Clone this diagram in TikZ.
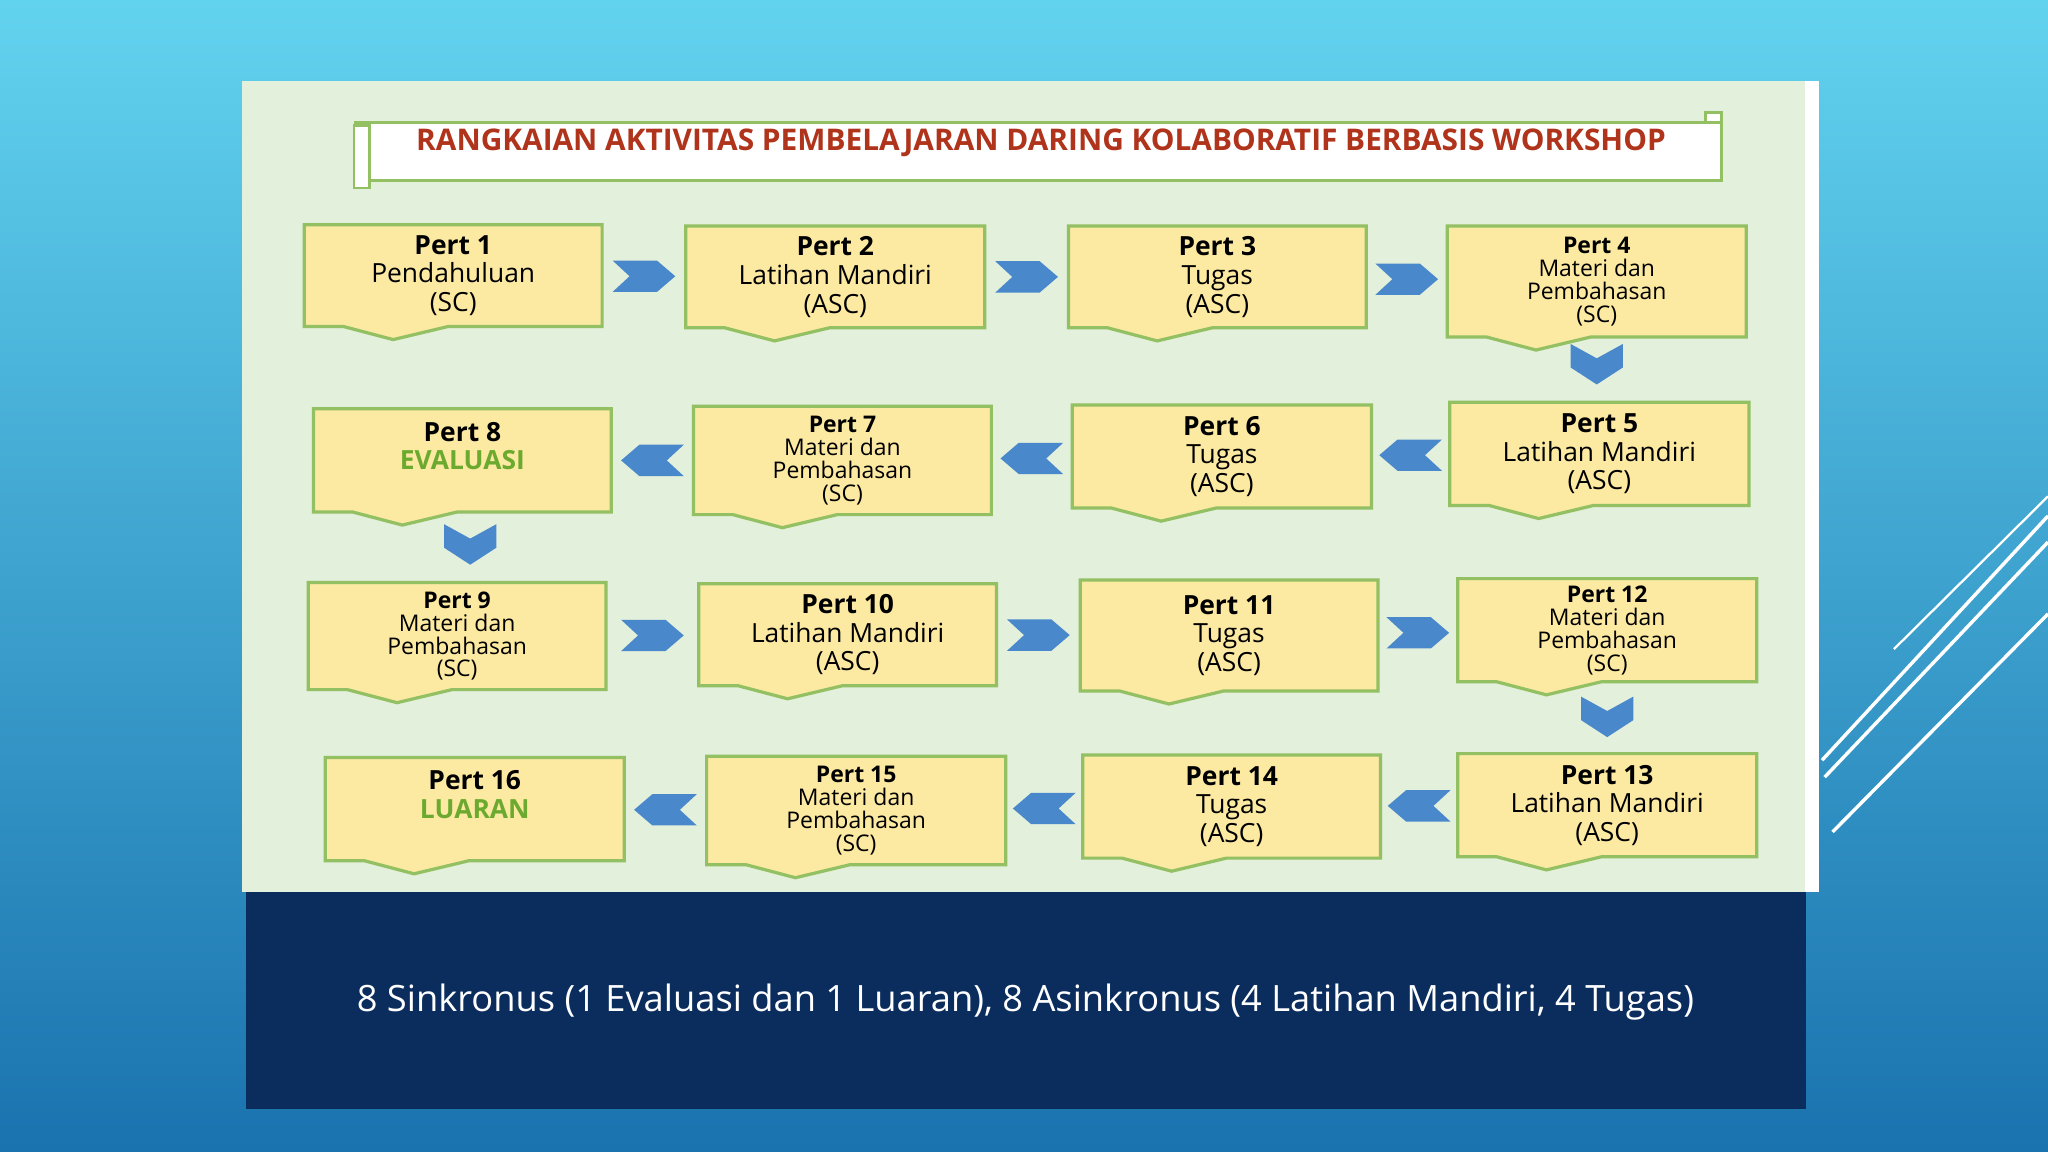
\documentclass[tikz,border=0pt]{standalone}
\usepackage{fontspec}
\setmainfont{Open Sans}
\usetikzlibrary{calc}
\definecolor{bgtop}{HTML}{62D3EF}
\definecolor{bgbot}{HTML}{1A72AE}
\definecolor{panel}{HTML}{E3F0DB}
\definecolor{navy}{HTML}{0A2D5E}
\definecolor{boxfill}{HTML}{FCE9A2}
\definecolor{boxline}{HTML}{93C063}
\definecolor{chev}{HTML}{4A88CC}
\definecolor{titlered}{HTML}{B0341C}
\definecolor{evgreen}{HTML}{6BAA2E}
\tikzset{
 boxtext/.style={inner sep=0pt,align=center,text=black,font=\fontsize{11.5}{12.5}\selectfont},
 smalltext/.style={boxtext,font=\fontsize{10}{10}\selectfont},
 chevron/.style={fill=chev,draw=none},
 deco/.style={white,line width=1.5pt}
}
\newcommand\pertbox[7][boxtext]{%
 \fill[boxfill,draw=boxline,line width=1.4pt] (#3,#4) -- (#5,#4) -- (#5,#6) -- ({#3+110},#6) -- ({#3+68},{#6+10}) -- ({#3+30},#6) -- (#3,#6) -- cycle;
 \node[#1,minimum width={(#5-#3)*0.02cm},minimum height={(#6-#4)*0.02cm}] (#2) at ({(#3+#5)/2},{(#4+#6)/2}) {#7};}
\newcommand\chevR[1]{\fill[chevron] ($#1+(-24,-12)$) -- ($#1+(10,-12)$) -- ($#1+(24,0)$) -- ($#1+(10,12)$) -- ($#1+(-24,12)$) -- ($#1+(-11,0)$) -- cycle;}
\newcommand\chevL[1]{\fill[chevron] ($#1+(24,-12)$) -- ($#1+(-10,-12)$) -- ($#1+(-24,0)$) -- ($#1+(-10,12)$) -- ($#1+(24,12)$) -- ($#1+(11,0)$) -- cycle;}
\newcommand\chevD[1]{\fill[chevron] ($#1+(-20,-15)$) -- ($#1+(0,-4)$) -- ($#1+(20,-15)$) -- ($#1+(20,3)$) -- ($#1+(0,16)$) -- ($#1+(-20,3)$) -- cycle;}
\newcommand\ptitle[1]{{\bfseries #1}}
\begin{document}
\begin{tikzpicture}[x=0.02cm,y=-0.02cm]
\shade[top color=bgtop,bottom color=bgbot] (0,0) rectangle (1568,882);
\useasboundingbox (0,0) rectangle (1568,882);
% decorative lines
\draw[deco] (1395,582) -- (1568,395);
\draw[deco] (1397,595) -- (1568,415);
\draw[deco] (1403,637) -- (1568,470);
\draw[deco,line width=1pt] (1450,497) -- (1568,380);
% panel
\fill[white] (185,62) rectangle (1393,683);
\fill[panel] (185,62) rectangle (1382,683);
\fill[navy] (188,683) rectangle (1383,849);
\node[text=white,font=\fontsize{15.8}{18}\selectfont] (foot) at (785,767) {8 Sinkronus (1 Evaluasi dan 1 Luaran), 8 Asinkronus (4 Latihan Mandiri, 4 Tugas)};
% title scroll
\draw[boxline,fill=white,line width=1.4pt] (272,94) rectangle (1318,138);
\draw[boxline,fill=white,line width=1.2pt] (271,96) rectangle (283,144);
\draw[boxline,fill=white,line width=1.2pt] (1306,86) rectangle (1318,94);
\node[text=titlered,font=\fontsize{13}{14}\selectfont\bfseries] (title) at (797,109) {RANGKAIAN AKTIVITAS PEMBELAJARAN DARING KOLABORATIF BERBASIS WORKSHOP};
% row 1
\pertbox{b1}{233}{172}{461}{250}{\ptitle{Pert 1}\\Pendahuluan\\(SC)}
\pertbox{b2}{525}{173}{754}{251}{\ptitle{Pert 2}\\Latihan Mandiri\\(ASC)}
\pertbox{b3}{818}{173}{1046}{251}{\ptitle{Pert 3}\\Tugas\\(ASC)}
\pertbox[smalltext]{b4}{1108}{173}{1337}{258}{\ptitle{Pert 4}\\Materi dan\\Pembahasan\\(SC)}
% row 2
\pertbox{b8}{240}{313}{468}{392}{\ptitle{Pert 8}\\{\color{evgreen}\bfseries EVALUASI}\\\phantom{x}}
\pertbox[smalltext]{b7}{531}{311}{759}{394}{\ptitle{Pert 7}\\Materi dan\\Pembahasan\\(SC)}
\pertbox{b6}{821}{310}{1050}{389}{\ptitle{Pert 6}\\Tugas\\(ASC)}
\pertbox{b5}{1110}{308}{1339}{387}{\ptitle{Pert 5}\\Latihan Mandiri\\(ASC)}
% row 3
\pertbox[smalltext]{b9}{236}{446}{464}{528}{\ptitle{Pert 9}\\Materi dan\\Pembahasan\\(SC)}
\pertbox{b10}{535}{447}{763}{525}{\ptitle{Pert 10}\\Latihan Mandiri\\(ASC)}
\pertbox{b11}{827}{444}{1055}{529}{\ptitle{Pert 11}\\Tugas\\(ASC)}
\pertbox[smalltext]{b12}{1116}{443}{1345}{522}{\ptitle{Pert 12}\\Materi dan\\Pembahasan\\(SC)}
% row 4
\pertbox{b16}{249}{580}{478}{659}{\ptitle{Pert 16}\\{\color{evgreen}\bfseries LUARAN}\\\phantom{x}}
\pertbox[smalltext]{b15}{541}{579}{770}{662}{\ptitle{Pert 15}\\Materi dan\\Pembahasan\\(SC)}
\pertbox{b14}{829}{578}{1057}{657}{\ptitle{Pert 14}\\Tugas\\(ASC)}
\pertbox{b13}{1116}{577}{1345}{656}{\ptitle{Pert 13}\\Latihan Mandiri\\(ASC)}
% chevrons
\chevR{($(b1.east)!0.5!(b2.west)$)}
\chevR{($(b2.east)!0.5!(b3.west)$)}
\chevR{($(b3.east)!0.5!(b4.west)$)}
\chevD{($(b4.south)+(0,20)$)}
\chevL{($(b5.west)!0.5!(b6.east)$)}
\chevL{($(b6.west)!0.5!(b7.east)$)}
\chevL{($(b7.west)!0.5!(b8.east)$)}
\chevD{($(b8.south)+(6,24)$)}
\chevR{($(b9.east)!0.5!(b10.west)$)}
\chevR{($(b10.east)!0.5!(b11.west)$)}
\chevR{($(b11.east)!0.5!(b12.west)$)}
\chevD{($(b12.south)+(0,26)$)}
\chevL{($(b13.west)!0.5!(b14.east)$)}
\chevL{($(b14.west)!0.5!(b15.east)$)}
\chevL{($(b15.west)!0.5!(b16.east)$)}
\end{tikzpicture}
\end{document}
